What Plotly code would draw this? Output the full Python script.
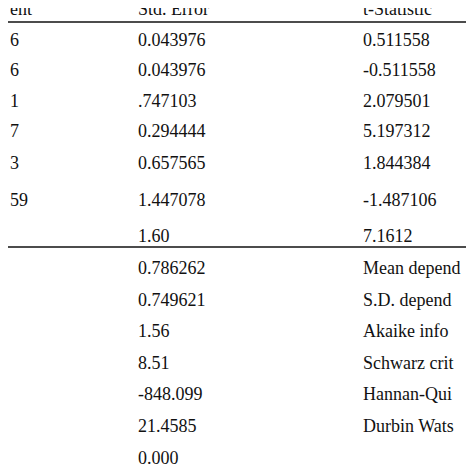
import plotly.graph_objects as go

# Regression output table (cropped view, as shown in the reference)
headers = ["ent", "Std. Error", "t-Statistic"]
coef = ["6", "6", "1", "7", "3", "59", ""]
std_err = ["0.043976", "0.043976", ".747103", "0.294444", "0.657565", "1.447078", "1.60"]
t_stat = ["0.511558", "-0.511558", "2.079501", "5.197312", "1.844384", "-1.487106", "7.1612"]
stats_vals = ["0.786262", "0.749621", "1.56", "8.51", "-848.099", "21.4585", "0.000"]
stats_names = ["Mean depend", "S.D. depend", "Akaike info",
               "Schwarz crit", "Hannan-Qui", "Durbin Wats", ""]

W = H = 474
OX, OY = 10, 8  # page offset compensation
row_y = [40, 70, 101, 131, 163, 200, 236]
stat_y = [268, 300, 331, 363, 394, 426, 458]
col1_x, col2_x, col3_x = 0, 138, 363

fig = go.Figure()
font = dict(family="Liberation Serif, Times New Roman, serif", size=18, color="#111")

def add(x, y, text):
    fig.add_annotation(x=x - OX, y=y - OY, text=text, xref="x", yref="y", showarrow=False,
                       xanchor="left", yanchor="middle", font=font)

add(col1_x + OX, 9, headers[0])
add(col2_x, 9, headers[1])
add(col3_x, 9, headers[2])
for y, c, s, t in zip(row_y, coef, std_err, t_stat):
    if c:
        add(col1_x + OX, y, c)
    add(col2_x, y, s)
    add(col3_x, y, t)
for y, v, n in zip(stat_y, stats_vals, stats_names):
    add(col2_x, y, v)
    if n:
        add(col3_x, y, n)

for y in [22, 247]:
    fig.add_shape(type="line", x0=0, x1=W, y0=y - OY, y1=y - OY, xref="x", yref="y",
                  line=dict(color="#111", width=1.5))

fig.update_layout(
    width=W, height=H, margin=dict(l=0, r=0, t=0, b=0),
    plot_bgcolor="white", paper_bgcolor="white", showlegend=False,
    xaxis=dict(range=[0, W], visible=False, fixedrange=True),
    yaxis=dict(range=[H, 0], visible=False, fixedrange=True),
)
fig.write_html("out.html")
